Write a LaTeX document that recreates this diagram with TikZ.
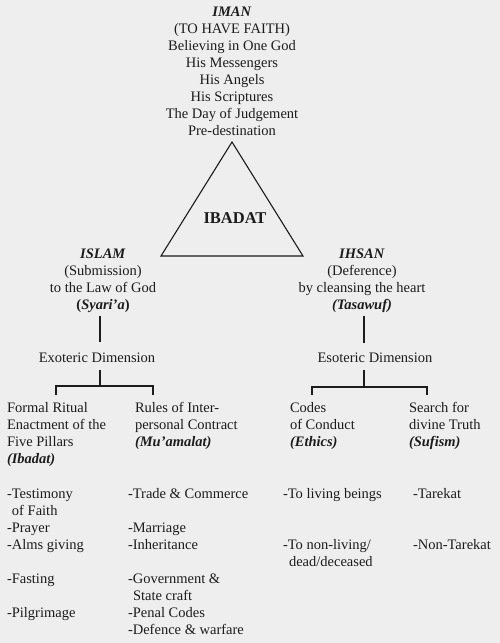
\documentclass[tikz,border=0pt]{standalone}
\usepackage{fontspec}
\setmainfont{Liberation Serif}
\definecolor{bg}{RGB}{238,238,238}
\definecolor{ink}{RGB}{28,28,28}
\tikzset{
  txt/.style={inner sep=0pt, outer sep=0pt, text=ink, font=\fontsize{14.5}{17}\selectfont},
  ctr/.style={txt, align=center, anchor=base},
  lft/.style={txt, align=left, anchor=base west},
  rule/.style={draw=ink, line width=1.1pt},
}
\newcommand{\bi}[1]{\textbf{\textit{#1}}}
\begin{document}
\begin{tikzpicture}[x=1pt,y=-1pt]
\fill[bg] (0,0) rectangle (500,643);
\useasboundingbox (0,0) rectangle (500,643);

% top block (anchor = baseline of last line)
\node[ctr] (iman) at (232,135.5) {\bi{IMAN}\\(TO HAVE FAITH)\\Believing in One God\\His Messengers\\His Angels\\His Scriptures\\The Day of Judgement\\Pre-destination};

% triangle
\coordinate (apex) at (232,142);
\coordinate (bl) at (161,256);
\coordinate (br) at (303,256);
\draw[rule, line join=miter] (apex) -- (br) -- (bl) -- cycle;
\node[txt, anchor=base, font=\fontsize{16.5}{18}\selectfont\bfseries] (ibadat) at (235,223.3) {IBADAT};

% left branch
\node[ctr] (islam) at (103,309.5) {\bi{ISLAM}\\(Submission)\\to the Law of God\\\textbf{(\textit{Syari’a})}};
\node[ctr] (exo) at (97,362) {Exoteric Dimension};
\coordinate (l1a) at (100,316);
\coordinate (l1b) at (100,342);
\coordinate (l2a) at (100,370);
\coordinate (l2b) at (100,386);
\coordinate (lbl) at (56,386);
\coordinate (lbr) at (153,386);
\coordinate (lbl2) at (56,395);
\coordinate (lbr2) at (153,395);
\draw[rule] (l1a) -- (l1b);
\draw[rule] (l2a) -- (l2b);
\draw[rule] (lbl2) -- (lbl) -- (lbr) -- (lbr2);

% right branch
\node[ctr] (ihsan) at (362,309.5) {\bi{IHSAN}\\(Deference)\\by cleansing the heart\\\bi{(Tasawuf)}};
\node[ctr] (eso) at (375,362) {Esoteric Dimension};
\coordinate (r1a) at (364,316);
\coordinate (r1b) at (364,343);
\coordinate (r2a) at (364,370);
\coordinate (r2b) at (364,387);
\coordinate (rbl) at (312,387);
\coordinate (rbr) at (427,387);
\coordinate (rbl2) at (312,395);
\coordinate (rbr2) at (427,395);
\draw[rule] (r1a) -- (r1b);
\draw[rule] (r2a) -- (r2b);
\draw[rule] (rbl2) -- (rbl) -- (rbr) -- (rbr2);

% column headings
\node[lft] (c1) at (7,463) {Formal Ritual\\Enactment of the\\Five Pillars\\\bi{(Ibadat)}};
\node[lft] (c2) at (135,446) {Rules of Inter-\\personal Contract\\\bi{(Mu’amalat)}};
\node[lft] (c3) at (290,446) {Codes\\of Conduct\\\bi{(Ethics)}};
\node[lft] (c4) at (409,446) {Search for\\divine Truth\\\bi{(Sufism)}};

% lists
\node[lft] (l1) at (7,617) {-Testimony\\\hspace{5pt}of Faith\\-Prayer\\-Alms giving\\[17pt]-Fasting\\[17pt]-Pilgrimage};
\node[lft] (l2) at (128,634) {-Trade \& Commerce\\[17pt]-Marriage\\-Inheritance\\[17pt]-Government \&\\\hspace{5pt}State craft\\-Penal Codes\\-Defence \& warfare};
\node[lft] (l3) at (283,566) {-To living beings\\[34pt]-To non-living/\\\hspace{6pt}dead/deceased};
\node[lft] (l4) at (413,549) {-Tarekat\\[34pt]-Non-Tarekat};
\end{tikzpicture}
\end{document}
